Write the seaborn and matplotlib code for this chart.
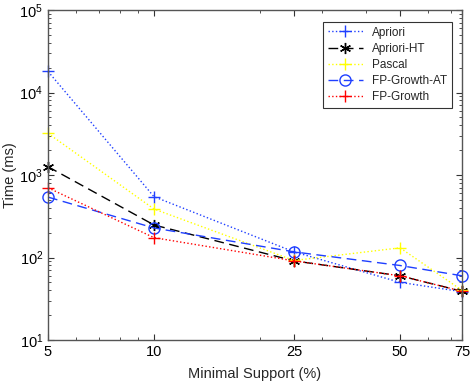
import numpy as np
import pandas as pd
import matplotlib
matplotlib.use('Agg')
import matplotlib.pyplot as plt
import matplotlib.ticker as mticker
import seaborn as sns

# Okunan degerler (log eksenler)
support = [5, 10, 25, 50, 75]
apriori = [18000, 546, 117, 50, 38.5]
apriori_ht = [1260, 248, 91, 60, 39]
pascal = [3200, 387, 92, 131, 40]
fp_growth_at = [540, 228, 117, 80, 60]
fp_growth = [700, 174, 91, 60, 39]

series = [
    ('Apriori', apriori, '#1f3fff', ':', '+'),
    ('Apriori-HT', apriori_ht, 'black', (0, (7, 4)), (6, 2, 0)),
    ('Pascal', pascal, '#ffff00', ':', '+'),
    ('FP-Growth-AT', fp_growth_at, '#1f3fff', (0, (7, 4)), 'o'),
    ('FP-Growth', fp_growth, 'red', ':', '+'),
]

sns.set_style('ticks')
plt.rcParams['font.family'] = ['Liberation Sans', 'DejaVu Sans']

fig = plt.figure(figsize=(4.74, 3.85), dpi=100)
ax = fig.add_axes([48/474, 45/385, 414/474, 330/385])

for name, vals, col, ls, mk in series:
    df = pd.DataFrame({'x': support, 'y': vals})
    sns.lineplot(data=df, x='x', y='y', ax=ax, color=col, linestyle=ls,
                 marker=mk, markersize=8, markerfacecolor='none',
                 markeredgecolor=col, markeredgewidth=1.0, linewidth=1.0,
                 label=name, clip_on=False)

ax.set_xscale('log')
ax.set_yscale('log')
ax.set_xlim(5, 75)
ax.set_ylim(10, 1e5)
ax.set_xticks(support)
ax.xaxis.set_major_formatter(mticker.FixedFormatter([str(s) for s in support]))
ax.xaxis.set_minor_formatter(mticker.NullFormatter())
ax.tick_params(which='both', direction='in', top=True, right=True, labelsize=10.5,
               colors='#333333', labelcolor='black')
ax.tick_params(which='major', length=4)
ax.tick_params(which='minor', length=2)
for s in ax.spines.values():
    s.set_color('#555555')
    s.set_linewidth(1.0)

ax.set_xlabel('Minimal Support (%)', fontsize=10.5, labelpad=6)
ax.set_ylabel('Time (ms)', fontsize=10.5, labelpad=2)

leg = ax.legend(loc='upper right', bbox_to_anchor=(0.985, 0.975), fontsize=8.5,
                frameon=True, fancybox=False, edgecolor='black', handlelength=3,
                borderaxespad=0.3, labelspacing=0.35)
leg.get_frame().set_linewidth(0.8)

fig.savefig('out.png', dpi=100)
